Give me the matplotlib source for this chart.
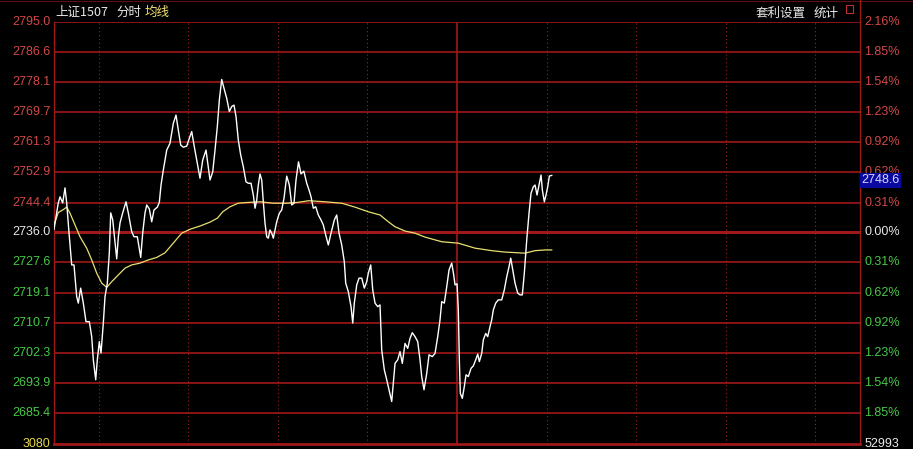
import matplotlib
matplotlib.use("Agg")
import matplotlib.pyplot as plt
from matplotlib.transforms import blended_transform_factory

# ---------------- data (minutes since 9:15, price) ----------------
price_t = [0.0, 1.44, 2.01, 2.91, 3.69, 4.25, 5.03, 5.93, 6.70, 7.60, 8.14, 8.94, 9.82, 10.72, 11.83,
           12.63, 13.17, 13.97, 14.51, 15.18, 15.75, 16.52, 17.09, 17.86, 18.53, 19.0, 19.67, 20.44,
           21.01, 21.55, 22.12, 23.02, 24.12, 24.89, 26.03, 26.80, 27.91, 29.05, 29.72, 30.49, 31.06,
           31.93, 32.73, 33.50, 34.61, 35.28, 35.85, 36.62, 37.76, 38.86, 39.97, 40.87, 41.64, 42.45,
           43.32, 44.46, 45.33, 46.13, 46.90, 47.81, 48.91, 49.82, 50.92, 51.69, 52.26, 53.17, 53.94,
           54.71, 55.38, 56.18, 56.95, 57.86, 58.73, 59.53, 60.30, 60.97, 61.74, 62.55, 63.42, 64.32,
           65.09, 65.99, 66.77, 67.34, 67.91, 68.44, 69.01, 69.58, 70.12, 70.69, 71.26, 71.79, 72.36,
           72.93, 73.47, 74.04, 74.61, 75.48, 76.28, 77.05, 77.96, 78.83, 79.63, 80.40, 81.07, 81.91,
           82.75, 83.69, 84.66, 85.43, 86.10, 86.87, 87.67, 88.54, 89.45, 90.22, 91.02, 91.89, 92.80,
           93.90, 94.71, 95.48, 96.38, 97.25, 97.72, 98.59, 99.50, 100.07, 100.60, 101.41, 102.18,
           103.08, 103.95, 104.76, 105.29, 106.10, 106.77, 107.54, 108.44, 109.21, 109.78, 110.65,
           111.46, 112.23, 113.13, 113.67, 114.24, 115.14, 115.91, 116.68, 117.59, 118.49, 119.26,
           120.03, 120.94, 121.84, 122.61, 123.18, 123.95, 124.86, 125.63, 126.73, 127.64, 128.54,
           129.31, 129.88, 130.75, 131.56, 132.33, 133.23, 133.90, 134.34, 135.01, 135.44, 135.78,
           136.11, 136.78, 137.45, 138.02, 138.79, 139.70, 140.47, 141.27, 141.94, 142.48, 143.28,
           143.82, 144.62, 145.29, 146.06, 146.63, 147.17, 147.97, 148.84, 149.98, 150.85, 151.66,
           152.43, 153.0, 153.67, 154.44, 155.34, 156.11, 156.88, 157.55, 158.36, 159.13, 159.80,
           160.57, 161.14, 161.81, 162.48, 163.15, 163.59, 164.26, 164.82, 165.39, 165.93, 166.73]
price_v = [2736.9, 2744.3, 2746.0, 2744.3, 2748.5, 2744.3, 2735.9, 2726.9, 2726.9, 2718.0, 2716.2,
           2720.4, 2716.2, 2711.0, 2711.0, 2706.8, 2700.3, 2694.7, 2700.3, 2705.4, 2702.2, 2710.6,
           2718.0, 2721.8, 2730.3, 2741.5, 2739.5, 2733.1, 2728.6, 2734.8, 2738.7, 2741.5, 2744.6,
           2741.5, 2736.2, 2734.8, 2734.8, 2729.0, 2735.9, 2741.5, 2743.7, 2742.6, 2739.0, 2742.3,
           2743.1, 2744.4, 2749.3, 2753.5, 2759.1, 2761.0, 2766.6, 2768.9, 2764.7, 2760.5, 2759.9,
           2760.2, 2762.4, 2764.3, 2760.5, 2756.3, 2751.2, 2756.3, 2759.1, 2754.4, 2750.7, 2753.0,
           2759.1, 2765.7, 2773.1, 2778.9, 2776.4, 2773.6, 2769.9, 2771.3, 2771.7, 2768.5, 2761.9,
           2757.7, 2754.4, 2750.2, 2749.8, 2749.8, 2746.5, 2742.8, 2745.1, 2749.3, 2752.4, 2750.7,
           2744.6, 2738.6, 2734.8, 2734.4, 2736.7, 2735.8, 2734.4, 2736.7, 2739.0, 2741.4, 2742.3,
           2745.6, 2751.8, 2749.3, 2743.7, 2744.2, 2750.7, 2755.8, 2752.4, 2753.2, 2749.8, 2747.9,
           2746.0, 2742.8, 2743.2, 2740.9, 2739.5, 2738.1, 2735.3, 2732.5, 2735.8, 2739.5, 2740.9,
           2735.8, 2732.5, 2727.8, 2721.8, 2719.4, 2715.2, 2710.6, 2716.2, 2721.3, 2723.2, 2723.2,
           2720.4, 2722.2, 2724.6, 2726.9, 2719.9, 2716.2, 2715.2, 2715.7, 2703.1, 2697.5, 2694.7,
           2691.9, 2688.6, 2693.7, 2699.3, 2700.3, 2702.6, 2699.3, 2704.9, 2703.5, 2706.3, 2707.9,
           2706.8, 2705.4, 2700.3, 2695.6, 2691.9, 2696.5, 2701.7, 2701.2, 2702.1, 2706.8, 2711.5,
           2716.6, 2716.2, 2720.8, 2725.5, 2727.4, 2724.1, 2721.3, 2721.6, 2714.3, 2700.3, 2690.9,
           2689.5, 2692.8, 2696.1, 2695.6, 2697.9, 2698.6, 2700.3, 2701.9, 2699.8, 2702.1, 2705.9,
           2707.7, 2706.8, 2709.6, 2711.5, 2714.3, 2716.2, 2717.1, 2717.1, 2719.9, 2723.6, 2726.4,
           2728.8, 2725.5, 2721.8, 2719.0, 2718.5, 2718.5, 2724.6, 2733.9, 2741.4, 2747.0, 2748.8,
           2749.3, 2746.5, 2749.3, 2752.1, 2747.9, 2744.6, 2746.5, 2748.8, 2751.8, 2752.0]

avg_t = [0.0, 1.44, 2.91, 4.25, 5.36, 7.04, 8.71, 10.95, 12.63, 14.31, 15.98, 17.66, 19.33, 21.55,
         23.79, 26.03, 28.81, 31.59, 34.41, 37.19, 39.43, 42.78, 45.56, 48.91, 52.26, 54.71, 56.52,
         58.96, 61.74, 64.56, 69.01, 73.47, 77.96, 81.31, 85.43, 90.79, 96.38, 100.84, 105.29,
         109.21, 111.99, 114.24, 117.59, 120.94, 124.29, 129.88, 135.44, 141.04, 146.63, 151.09,
         157.79, 161.14, 164.49, 166.73]
avg_v = [2738.1, 2741.6, 2742.3, 2743.1, 2741.4, 2738.1, 2734.8, 2731.6, 2728.3, 2724.6, 2721.8,
         2720.6, 2722.2, 2724.1, 2726.0, 2726.9, 2727.4, 2728.3, 2729.0, 2730.3, 2732.5, 2735.8,
         2736.9, 2737.8, 2738.9, 2740.0, 2741.8, 2743.2, 2744.2, 2744.4, 2744.6, 2744.2, 2744.2,
         2744.4, 2744.9, 2744.6, 2744.2, 2743.1, 2741.8, 2740.9, 2739.0, 2737.6, 2736.4, 2735.8,
         2734.7, 2733.4, 2733.0, 2731.6, 2730.9, 2730.5, 2730.2, 2730.9, 2731.1, 2731.1]

levels = [2795.0, 2786.6, 2778.1, 2769.7, 2761.3, 2752.9, 2744.4, 2736.0,
          2727.6, 2719.1, 2710.7, 2702.3, 2693.9, 2685.4]
left_labels = ["2795.0", "2786.6", "2778.1", "2769.7", "2761.3", "2752.9", "2744.4", "2736.0",
               "2727.6", "2719.1", "2710.7", "2702.3", "2693.9", "2685.4"]
right_labels = ["2.16%", "1.85%", "1.54%", "1.23%", "0.92%", "0.62%", "0.31%", "0.00%",
                "0.31%", "0.62%", "0.92%", "1.23%", "1.54%", "1.85%"]
base_price = 2736.0
last_price_label = "2748.6"
bottom_left_label = "3080"
bottom_right_label = "52993"
dotted_minutes = [15, 45, 75, 105, 165, 195, 225, 255]
noon_minute = 135
total_minutes = 270

# ---------------- styling ----------------
BG = "#000000"
GRID = "#a01818"
RED_TXT = "#d04848"
GREEN_TXT = "#48c848"
WHITE = "#e8e8e8"
YELLOW = "#e8e070"
FONT = ["Liberation Sans", "DejaVu Sans"]
CJK = ["Noto Sans CJK SC", "DejaVu Sans"]

W, H = 913, 449
fig = plt.figure(figsize=(W / 100, H / 100), dpi=100, facecolor=BG)
L, R, T, B = 54, 860, 22, 444
ax = fig.add_axes([L / W, (H - B) / H, (R - L) / W, (B - T) / H], facecolor=BG)
ax.set_xlim(0, total_minutes)
ax.set_ylim(2676.7, 2795.0)
ax.set_xticks([])
ax.set_yticks([])
for side, sp in ax.spines.items():
    sp.set_color(GRID)
    sp.set_linewidth(1.0)
ax.spines["bottom"].set_linewidth(2.0)
ax.spines["top"].set_visible(False)

# horizontal grid
for lv in levels:
    lw = 2.2 if lv == base_price else 1.2
    ax.axhline(lv, color=GRID, lw=lw, zorder=1)
# vertical dotted lines
for m in dotted_minutes:
    ax.axvline(m, color="#a02020", lw=0.8, ls=(0, (1, 2.5)), zorder=1)
ax.axvline(noon_minute, color=GRID, lw=1.2, zorder=1)

# series
ax.plot(avg_t, avg_v, color=YELLOW, lw=0.9, zorder=3)
ax.plot(price_t, price_v, color="#ffffff", lw=1.0, zorder=4)

# axis labels
trans = blended_transform_factory(ax.transAxes, ax.transData)
for lv, ll, rl in zip(levels, left_labels, right_labels):
    if lv > base_price:
        c = RED_TXT
    elif lv < base_price:
        c = GREEN_TXT
    else:
        c = WHITE
    ax.text(-0.004, lv, ll, transform=trans, ha="right", va="center", color=c,
            fontsize=9, family=FONT, clip_on=False)
    ax.text(1.005, lv, rl, transform=trans, ha="left", va="center", color=c,
            fontsize=9, family=FONT, clip_on=False, zorder=5)

ax.text(-0.004, 0.0, bottom_left_label, transform=ax.transAxes, ha="right", va="center",
        color="#e8d848", fontsize=9, family=FONT, clip_on=False)
ax.text(1.005, 0.0, bottom_right_label, transform=ax.transAxes, ha="left", va="center",
        color=WHITE, fontsize=9, family=FONT, clip_on=False)

# last price box
ax.text(1.0013, (B - 180) / (B - T), last_price_label, transform=ax.transAxes, ha="left",
        va="center", color="#d8d8ff", fontsize=9, family=FONT, clip_on=False, zorder=10,
        bbox=dict(boxstyle="square,pad=0.12", facecolor="#0a0aa0", edgecolor="none"))

# header
fig.text(55 / W, 1 - 12 / H, "上证1507", color=WHITE, fontsize=9, family=CJK, ha="left", va="center")
fig.text(116 / W, 1 - 12 / H, "分时", color=WHITE, fontsize=9, family=CJK, ha="left", va="center")
fig.text(145 / W, 1 - 12 / H, "均线", color="#f0e070", fontsize=9, family=CJK, ha="left", va="center")
fig.text(756 / W, 1 - 13 / H, "套利设置", color=WHITE, fontsize=9, family=CJK, ha="left", va="center")
fig.text(814 / W, 1 - 13 / H, "统计", color=WHITE, fontsize=9, family=CJK, ha="left", va="center")
from matplotlib.patches import Rectangle
fig.add_artist(Rectangle((846 / W, 1 - 13 / H), 7 / W, 8 / H, transform=fig.transFigure,
                         facecolor="none", edgecolor="#c03030", lw=0.8))
# top frame lines
fig.add_artist(plt.Line2D([0, 1], [1 - 1 / H, 1 - 1 / H], transform=fig.transFigure,
                          color="#601010", lw=0.8))
fig.add_artist(plt.Line2D([R / W, R / W], [1 - T / H, 1], transform=fig.transFigure,
                          color=GRID, lw=1.0))

fig.savefig("out.png", dpi=100, facecolor=BG)
